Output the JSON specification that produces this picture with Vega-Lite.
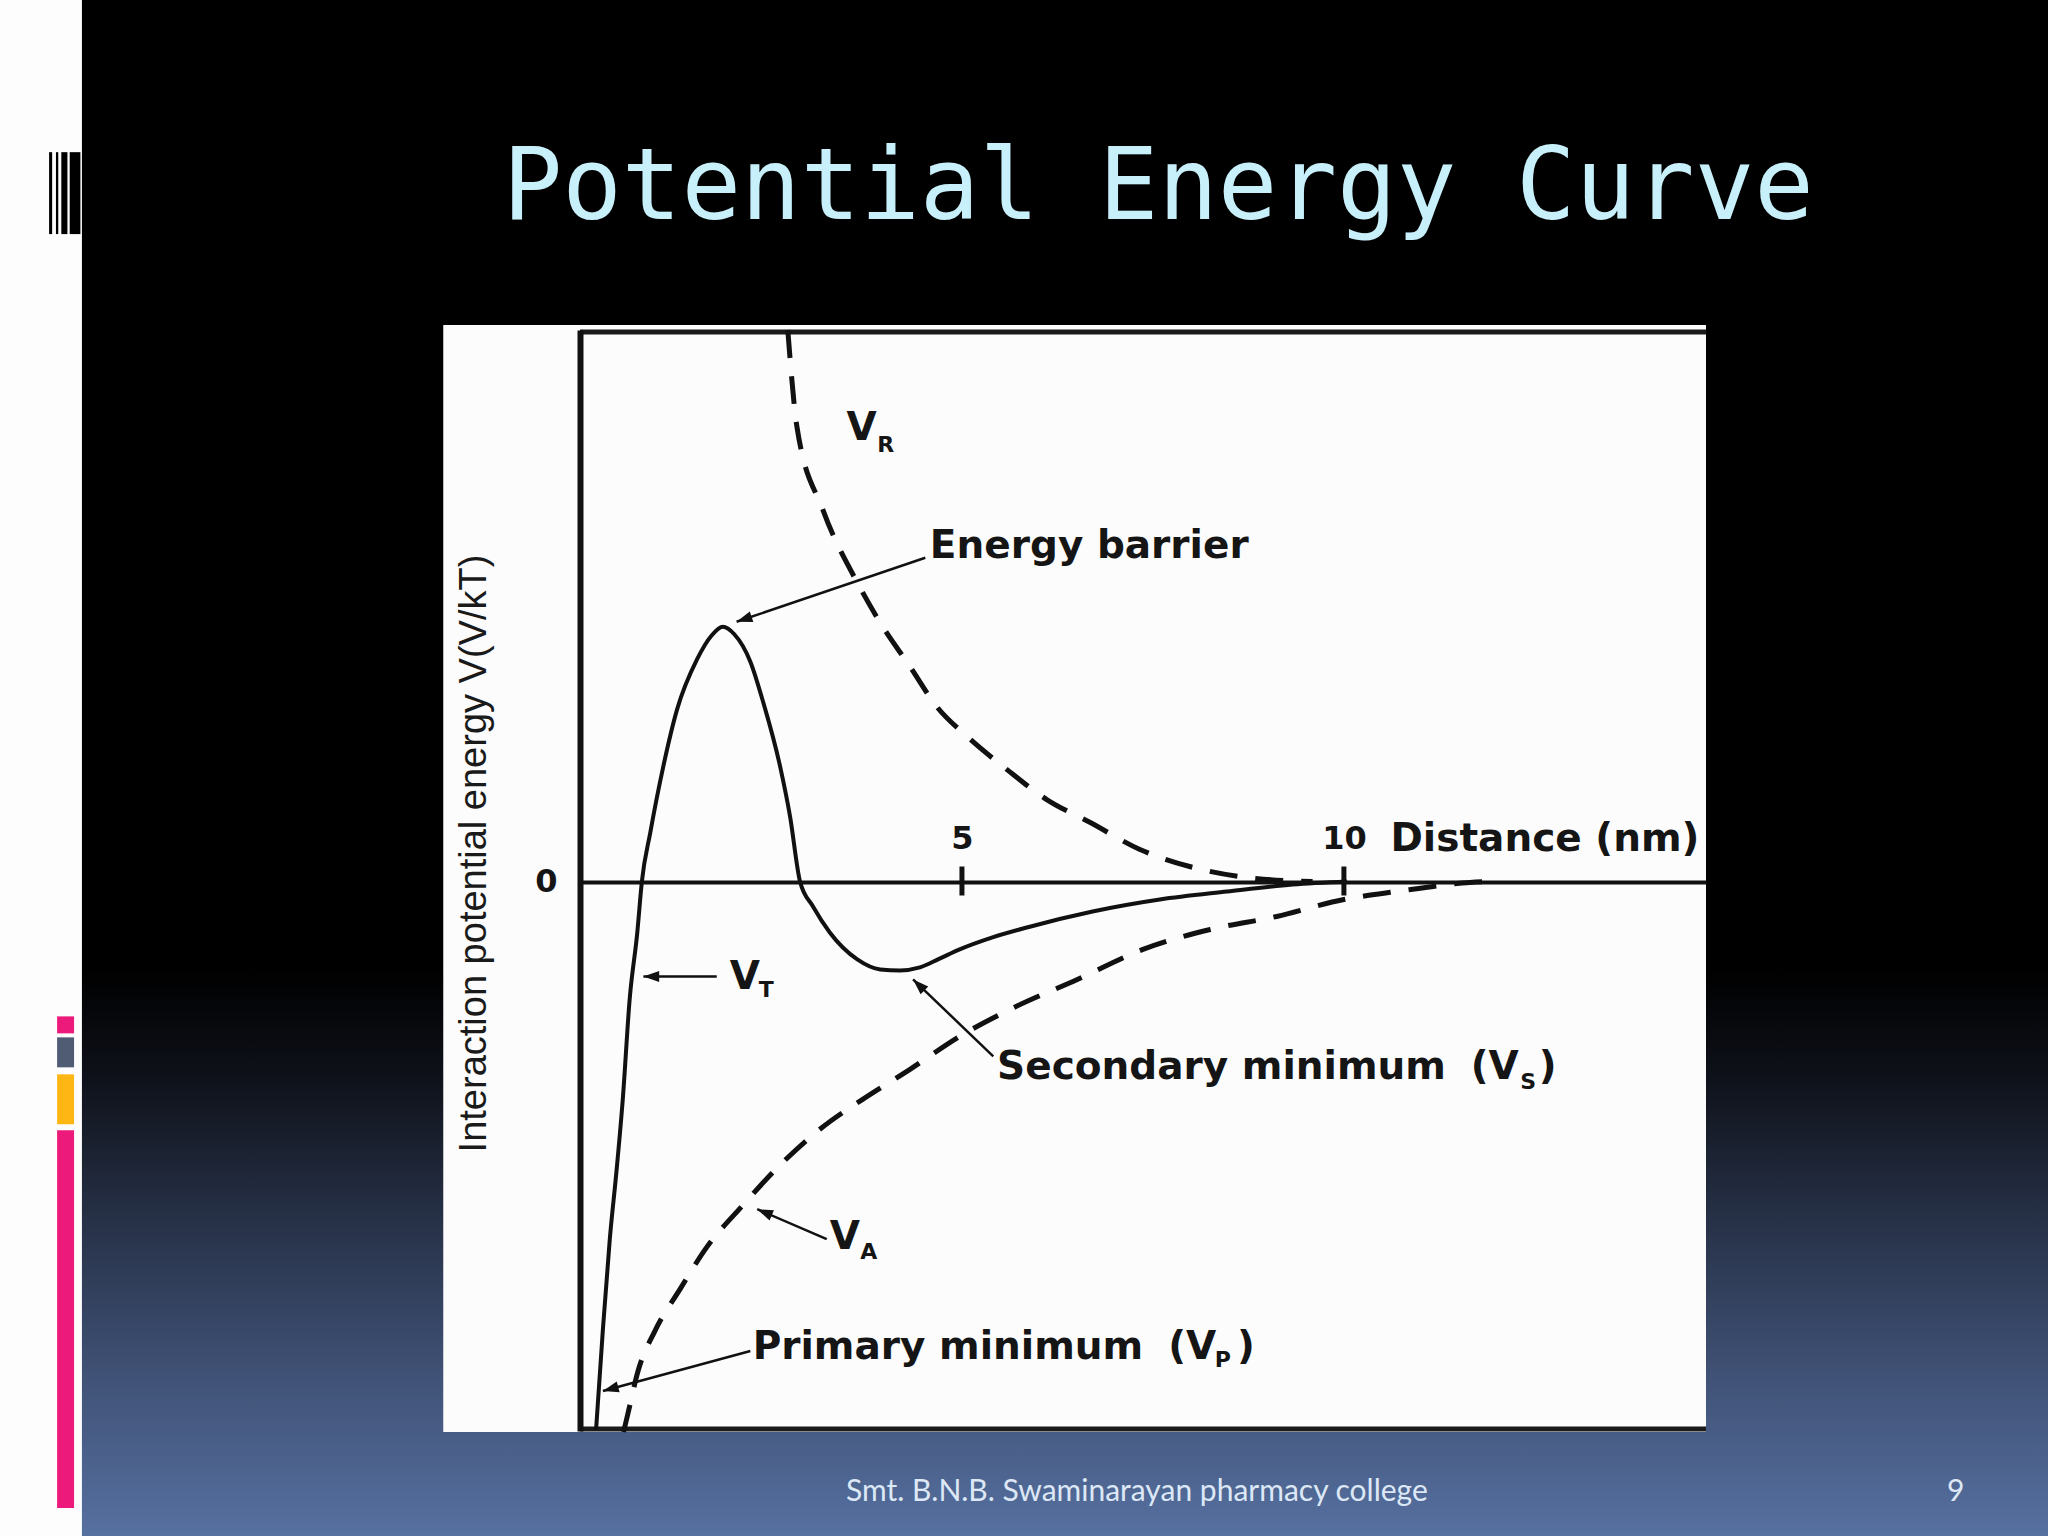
{
  "$schema": "https://vega.github.io/schema/vega-lite/v6.json",
  "width": 1126,
  "height": 1101,
  "autosize": {"type": "none"},
  "padding": {"left": 580, "top": 330, "right": 342, "bottom": 105},
  "background": "#000000",
  "config": {"view": {"stroke": null}},
  "datasets": {
    "deco": [
      {"c": "black", "x0": -6.95, "x1": -6.91, "y0": 14.6, "y1": 12.96},
      {"c": "black", "x0": -6.86, "x1": -6.83, "y0": 14.6, "y1": 12.96},
      {"c": "black", "x0": -6.79, "x1": -6.71, "y0": 14.6, "y1": 12.96},
      {"c": "black", "x0": -6.68, "x1": -6.54, "y0": 14.6, "y1": 12.96},
      {"c": "pink", "x0": -6.845, "x1": -6.623, "y0": -2.70, "y1": -3.04},
      {"c": "gray", "x0": -6.845, "x1": -6.623, "y0": -3.12, "y1": -3.72},
      {"c": "orange", "x0": -6.845, "x1": -6.623, "y0": -3.86, "y1": -4.86},
      {"c": "pink", "x0": -6.845, "x1": -6.623, "y0": -4.98, "y1": -12.54}
    ],
    "curves": [
      {"s": "VT", "x": 0.21, "y": -10.98}, {"s": "VT", "x": 0.30, "y": -8.96}, {"s": "VT", "x": 0.39, "y": -7.16},
      {"s": "VT", "x": 0.48, "y": -5.76}, {"s": "VT", "x": 0.56, "y": -4.36}, {"s": "VT", "x": 0.65, "y": -2.36},
      {"s": "VT", "x": 0.75, "y": -1.02}, {"s": "VT", "x": 0.81, "y": 0}, {"s": "VT", "x": 0.92, "y": 0.98},
      {"s": "VT", "x": 1.09, "y": 2.30}, {"s": "VT", "x": 1.27, "y": 3.44}, {"s": "VT", "x": 1.53, "y": 4.44},
      {"s": "VT", "x": 1.72, "y": 4.92}, {"s": "VT", "x": 1.87, "y": 5.10}, {"s": "VT", "x": 2.02, "y": 4.95},
      {"s": "VT", "x": 2.23, "y": 4.40}, {"s": "VT", "x": 2.40, "y": 3.58}, {"s": "VT", "x": 2.62, "y": 2.30},
      {"s": "VT", "x": 2.75, "y": 1.30}, {"s": "VT", "x": 2.88, "y": 0}, {"s": "VT", "x": 3.05, "y": -0.50},
      {"s": "VT", "x": 3.27, "y": -1.02}, {"s": "VT", "x": 3.63, "y": -1.56}, {"s": "VT", "x": 3.93, "y": -1.76},
      {"s": "VT", "x": 4.19, "y": -1.78}, {"s": "VT", "x": 4.45, "y": -1.72}, {"s": "VT", "x": 4.70, "y": -1.55},
      {"s": "VT", "x": 4.97, "y": -1.36}, {"s": "VT", "x": 5.40, "y": -1.12}, {"s": "VT", "x": 5.85, "y": -0.92},
      {"s": "VT", "x": 6.71, "y": -0.60}, {"s": "VT", "x": 7.59, "y": -0.36},
      {"s": "VT", "x": 8.47, "y": -0.20}, {"s": "VT", "x": 9.33, "y": -0.06}, {"s": "VT", "x": 10.04, "y": 0},
      {"s": "VR", "x": 2.72, "y": 11.04}, {"s": "VR", "x": 2.84, "y": 9.10}, {"s": "VR", "x": 3.18, "y": 7.44},
      {"s": "VR", "x": 3.66, "y": 5.90}, {"s": "VR", "x": 3.93, "y": 5.18}, {"s": "VR", "x": 4.32, "y": 4.30},
      {"s": "VR", "x": 4.67, "y": 3.50}, {"s": "VR", "x": 5.07, "y": 2.90}, {"s": "VR", "x": 5.59, "y": 2.24},
      {"s": "VR", "x": 6.11, "y": 1.64}, {"s": "VR", "x": 6.68, "y": 1.18}, {"s": "VR", "x": 7.33, "y": 0.64},
      {"s": "VR", "x": 7.98, "y": 0.30}, {"s": "VR", "x": 8.73, "y": 0.08}, {"s": "VR", "x": 9.59, "y": 0},
      {"s": "VA", "x": 0.57, "y": -11.02}, {"s": "VA", "x": 0.62, "y": -10.70}, {"s": "VA", "x": 0.76, "y": -9.80},
      {"s": "VA", "x": 0.98, "y": -9.00}, {"s": "VA", "x": 1.31, "y": -8.16}, {"s": "VA", "x": 1.66, "y": -7.32},
      {"s": "VA", "x": 2.12, "y": -6.50}, {"s": "VA", "x": 2.59, "y": -5.72}, {"s": "VA", "x": 3.14, "y": -4.96},
      {"s": "VA", "x": 3.70, "y": -4.36}, {"s": "VA", "x": 4.32, "y": -3.76}, {"s": "VA", "x": 4.97, "y": -3.10},
      {"s": "VA", "x": 5.63, "y": -2.56}, {"s": "VA", "x": 6.51, "y": -1.96}, {"s": "VA", "x": 7.37, "y": -1.36},
      {"s": "VA", "x": 8.25, "y": -0.96}, {"s": "VA", "x": 9.12, "y": -0.70}, {"s": "VA", "x": 10.0, "y": -0.36},
      {"s": "VA", "x": 10.69, "y": -0.20}, {"s": "VA", "x": 11.65, "y": -0.02}, {"s": "VA", "x": 11.91, "y": 0}
    ],
    "arrows": [
      {"x0": 4.52, "y0": 6.48, "x1": 2.05, "y1": 5.20, "ang": 251.2},
      {"x0": 1.79, "y0": -1.90, "x1": 0.83, "y1": -1.90, "ang": 270},
      {"x0": 5.41, "y0": -3.50, "x1": 4.36, "y1": -1.96, "ang": 313.9},
      {"x0": 3.23, "y0": -7.16, "x1": 2.32, "y1": -6.56, "ang": 293.2},
      {"x0": 2.23, "y0": -9.40, "x1": 0.30, "y1": -10.20, "ang": 254.8}
    ],
    "labels": [
      {"t": "Energy barrier", "x": 4.58, "y": 6.48, "k": "main"},
      {"t": "V", "x": 3.49, "y": 8.84, "k": "main"},
      {"t": "R", "x": 3.89, "y": 8.60, "k": "sub"},
      {"t": "V", "x": 1.96, "y": -2.16, "k": "main"},
      {"t": "T", "x": 2.34, "y": -2.32, "k": "sub"},
      {"t": "Secondary minimum", "x": 5.46, "y": -3.96, "k": "main"},
      {"t": "(V", "x": 11.66, "y": -3.96, "k": "main"},
      {"t": "S", "x": 12.31, "y": -4.16, "k": "sub"},
      {"t": ")", "x": 12.55, "y": -3.96, "k": "main"},
      {"t": "V", "x": 3.27, "y": -7.36, "k": "main"},
      {"t": "A", "x": 3.67, "y": -7.56, "k": "sub"},
      {"t": "Primary minimum", "x": 2.26, "y": -9.56, "k": "main"},
      {"t": "(V", "x": 7.70, "y": -9.56, "k": "main"},
      {"t": "P", "x": 8.31, "y": -9.72, "k": "sub"},
      {"t": ")", "x": 8.60, "y": -9.56, "k": "main"}
    ]
  },
  "layer": [
    {
      "data": {"values": [{"r": "bg"}]},
      "mark": {"type": "rect", "fill": {"gradient": "linear", "x1": 0, "y1": 0, "x2": 0, "y2": 1, "stops": [
        {"offset": 0, "color": "#000000"},
        {"offset": 0.63, "color": "#000000"},
        {"offset": 0.70, "color": "#0e1119"},
        {"offset": 0.80, "color": "#28334a"},
        {"offset": 0.90, "color": "#415378"},
        {"offset": 1, "color": "#5670a0"}
      ]}},
      "encoding": {
        "x": {"datum": -7.6, "type": "quantitative", "scale": {"domain": [0, 14.74], "nice": false, "zero": false}, "axis": {
          "orient": "top", "offset": -552, "values": [5, 10], "format": "d", "ticks": false, "grid": false,
          "domain": true, "domainColor": "#111111", "domainWidth": 4,
          "labelFont": "DejaVu Sans", "labelFontWeight": "bold", "labelFontSize": 32, "labelColor": "#151515",
          "labelPadding": 34, "labelBaseline": "alphabetic",
          "title": "Distance (nm)", "titleFont": "DejaVu Sans", "titleFontWeight": "bold", "titleFontSize": 39,
          "titleColor": "#151515", "titleX": 810, "titleY": -32, "titleAlign": "left", "titleBaseline": "alphabetic",
          "titleAngle": 0, "zindex": 1
        }},
        "x2": {"datum": 19.25},
        "y": {"datum": 17.65, "type": "quantitative", "scale": {"domain": [-11.0, 11.04], "nice": false, "zero": false}, "axis": {
          "orient": "left", "values": [0], "format": "d", "ticks": false, "grid": false,
          "domain": true, "domainColor": "#111111", "domainWidth": 6,
          "labelFont": "DejaVu Sans", "labelFontWeight": "bold", "labelFontSize": 32, "labelColor": "#151515",
          "labelPadding": 23,
          "title": "Interaction potential energy V(V/kT)", "titleFont": "Liberation Sans", "titleFontSize": 38,
          "titleFontWeight": "normal", "titleColor": "#1a1a1a", "titleX": -106, "titleY": 523,
          "titleAlign": "center", "titleBaseline": "middle", "titleAngle": -90, "zindex": 1
        }},
        "y2": {"datum": -13.11}
      }
    },
    {
      "data": {"values": [{"r": "strip"}]},
      "mark": {"type": "rect", "fill": "#fdfdfd"},
      "encoding": {
        "x": {"datum": -7.6, "type": "quantitative"},
        "x2": {"datum": -6.52},
        "y": {"datum": 17.65, "type": "quantitative"},
        "y2": {"datum": -13.11}
      }
    },
    {
      "data": {"name": "deco"},
      "mark": {"type": "rect"},
      "encoding": {
        "x": {"field": "x0", "type": "quantitative"},
        "x2": {"field": "x1"},
        "y": {"field": "y0", "type": "quantitative"},
        "y2": {"field": "y1"},
        "color": {"field": "c", "type": "nominal", "scale": {"domain": ["black", "pink", "gray", "orange"], "range": ["#000000", "#ec1a7b", "#505b74", "#fdb614"]}, "legend": null}
      }
    },
    {
      "data": {"values": [{"r": "panel"}]},
      "mark": {"type": "rect", "fill": "#fcfcfc"},
      "encoding": {
        "x": {"datum": -1.79, "type": "quantitative"},
        "x2": {"datum": 14.74},
        "y": {"datum": 11.14, "type": "quantitative"},
        "y2": {"datum": -11.02}
      }
    },
    {
      "data": {"values": [{"yy": 11.0, "w": "top"}, {"yy": -10.96, "w": "bottom"}]},
      "mark": {"type": "rule", "color": "#1a1a1a", "strokeWidth": 5},
      "encoding": {
        "x": {"datum": 0, "type": "quantitative"},
        "x2": {"datum": 14.74},
        "y": {"field": "yy", "type": "quantitative"}
      }
    },
    {
      "data": {"values": [{"t": 5}, {"t": 10}]},
      "mark": {"type": "rule", "color": "#111111", "strokeWidth": 5},
      "encoding": {
        "x": {"field": "t", "type": "quantitative"},
        "y": {"datum": 0.30, "type": "quantitative"},
        "y2": {"datum": -0.28}
      }
    },
    {
      "data": {"name": "curves"},
      "transform": [{"filter": "datum.s == 'VT'"}],
      "mark": {"type": "line", "color": "#111111", "strokeWidth": 4, "interpolate": "monotone"},
      "encoding": {
        "x": {"field": "x", "type": "quantitative"},
        "y": {"field": "y", "type": "quantitative"}
      }
    },
    {
      "data": {"name": "curves"},
      "transform": [{"filter": "datum.s != 'VT'"}],
      "mark": {"type": "line", "color": "#111111", "strokeWidth": 5, "strokeDash": [28, 18], "interpolate": "monotone"},
      "encoding": {
        "x": {"field": "x", "type": "quantitative"},
        "y": {"field": "y", "type": "quantitative"},
        "detail": {"field": "s", "type": "nominal"}
      }
    },
    {
      "data": {"name": "arrows"},
      "mark": {"type": "rule", "color": "#111111", "strokeWidth": 2.5},
      "encoding": {
        "x": {"field": "x0", "type": "quantitative"},
        "y": {"field": "y0", "type": "quantitative"},
        "x2": {"field": "x1"},
        "y2": {"field": "y1"}
      }
    },
    {
      "data": {"name": "arrows"},
      "mark": {"type": "point", "shape": "M0,0L0.35,1L-0.35,1Z", "filled": true, "size": 1000, "color": "#111111", "opacity": 1},
      "encoding": {
        "x": {"field": "x1", "type": "quantitative"},
        "y": {"field": "y1", "type": "quantitative"},
        "angle": {"field": "ang", "type": "quantitative", "scale": null}
      }
    },
    {
      "data": {"name": "labels"},
      "mark": {"type": "text", "font": "DejaVu Sans", "fontWeight": "bold", "color": "#151515", "align": "left", "baseline": "alphabetic"},
      "encoding": {
        "x": {"field": "x", "type": "quantitative"},
        "y": {"field": "y", "type": "quantitative"},
        "text": {"field": "t"},
        "size": {"field": "k", "type": "ordinal", "scale": {"domain": ["main", "sub"], "range": [39, 22]}, "legend": null}
      }
    },
    {
      "data": {"values": [{"t": "Potential Energy Curve", "x": 7.57, "y": 13.26}]},
      "mark": {"type": "text", "font": "DejaVu Sans Mono", "fontSize": 99, "color": "#c8f0fb", "align": "center", "baseline": "alphabetic"},
      "encoding": {
        "x": {"field": "x", "type": "quantitative"},
        "y": {"field": "y", "type": "quantitative"},
        "text": {"field": "t"}
      }
    },
    {
      "data": {"values": [{"t": "Smt. B.N.B. Swaminarayan pharmacy college", "x": 7.29, "y": -12.40}, {"t": "9", "x": 18.01, "y": -12.40}]},
      "mark": {"type": "text", "font": "Lato", "fontSize": 30, "color": "#dde8f6", "align": "center", "baseline": "alphabetic"},
      "encoding": {
        "x": {"field": "x", "type": "quantitative"},
        "y": {"field": "y", "type": "quantitative"},
        "text": {"field": "t"}
      }
    }
  ]
}
